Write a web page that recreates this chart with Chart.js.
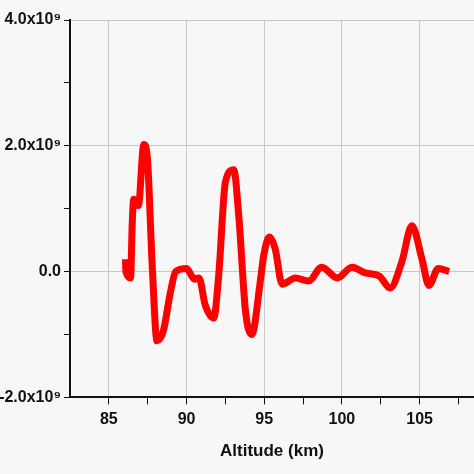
<!DOCTYPE html>
<html><head><meta charset="utf-8">
<script src="https://cdn.jsdelivr.net/npm/chart.js@4"></script>
<style>html,body{margin:0;padding:0;background:#f7f7f7;overflow:hidden}canvas{display:block}</style>
</head><body><canvas id="c" width="474" height="474"></canvas>
<script>
const altitude = [86.07,86.1,86.4,86.5,86.6,86.9,87.25,87.47,87.8,88.1,88.5,88.97,89.3,90.0,90.5,90.8,91.2,91.75,92.07,92.5,93.04,93.36,93.8,94.2,94.75,94.97,95.33,95.7,96.15,97.0,97.86,98.7,99.7,100.65,101.5,102.4,103.1,103.86,104.5,105.15,105.6,106.2,106.9];
const values = [0.2,0.0,-0.1,0.73,1.15,1.05,2.02,1.84,0.05,-1.1,-0.95,-0.32,0.0,0.05,-0.12,-0.1,-0.53,-0.74,-0.06,1.42,1.62,0.89,-0.64,-1.0,-0.15,0.26,0.55,0.37,-0.2,-0.1,-0.15,0.07,-0.1,0.07,-0.02,-0.07,-0.26,0.16,0.73,0.2,-0.22,0.05,0.0];
const xTicks = [85,87.5,90,92.5,95,97.5,100,102.5,105,107.5];
const yTicks = [-2,-1,0,1,2,3,4];
const yLabels = {"-2":"-2.0x10⁹","0":"0.0","2":"2.0x10⁹","4":"4.0x10⁹"};
const font = {family:'Liberation Sans, Arial, sans-serif', size:16, weight:'bold'};
new Chart(document.getElementById('c'), {
  type:'line',
  data:{datasets:[{data:altitude.map((a,i)=>({x:a,y:values[i]})),borderColor:'#ff0000',borderWidth:7,pointRadius:0,tension:0.35,cubicInterpolationMode:'monotone'}]},
  options:{responsive:false,animation:false,maintainAspectRatio:false,devicePixelRatio:1,
    layout:{padding:{top:20,right:0,left:0,bottom:0}},
    plugins:{legend:{display:false},tooltip:{enabled:false}},
    scales:{
      x:{type:'linear',min:82.5,max:108.5,
        afterBuildTicks:a=>{a.ticks=xTicks.map(v=>({value:v}));},
        ticks:{font,color:'#111',autoSkip:false,maxRotation:0,padding:6,callback:v=>(v%5===0?String(v):'')},
        grid:{color:c=>(c.tick&&c.tick.value%5===0?'#c8c8c8':'rgba(0,0,0,0)'),tickColor:'#111',tickLength:7,drawTicks:true},
        border:{color:'#111',width:2},
        title:{display:true,text:'Altitude (km)',font:{family:font.family,size:17,weight:'bold'},color:'#111',padding:{top:6,bottom:12}}},
      y:{type:'linear',min:-2,max:4,
        afterBuildTicks:a=>{a.ticks=yTicks.map(v=>({value:v}));},
        afterFit:s=>{s.width=70;},
        ticks:{font,color:'#111',autoSkip:false,callback:v=>(yLabels[String(v)]||'')},
        grid:{color:c=>(c.tick&&c.tick.value%2===0?'#c8c8c8':'rgba(0,0,0,0)'),tickColor:'#111',tickLength:6},
        border:{color:'#111',width:2}}
    }}
});
</script></body></html>
